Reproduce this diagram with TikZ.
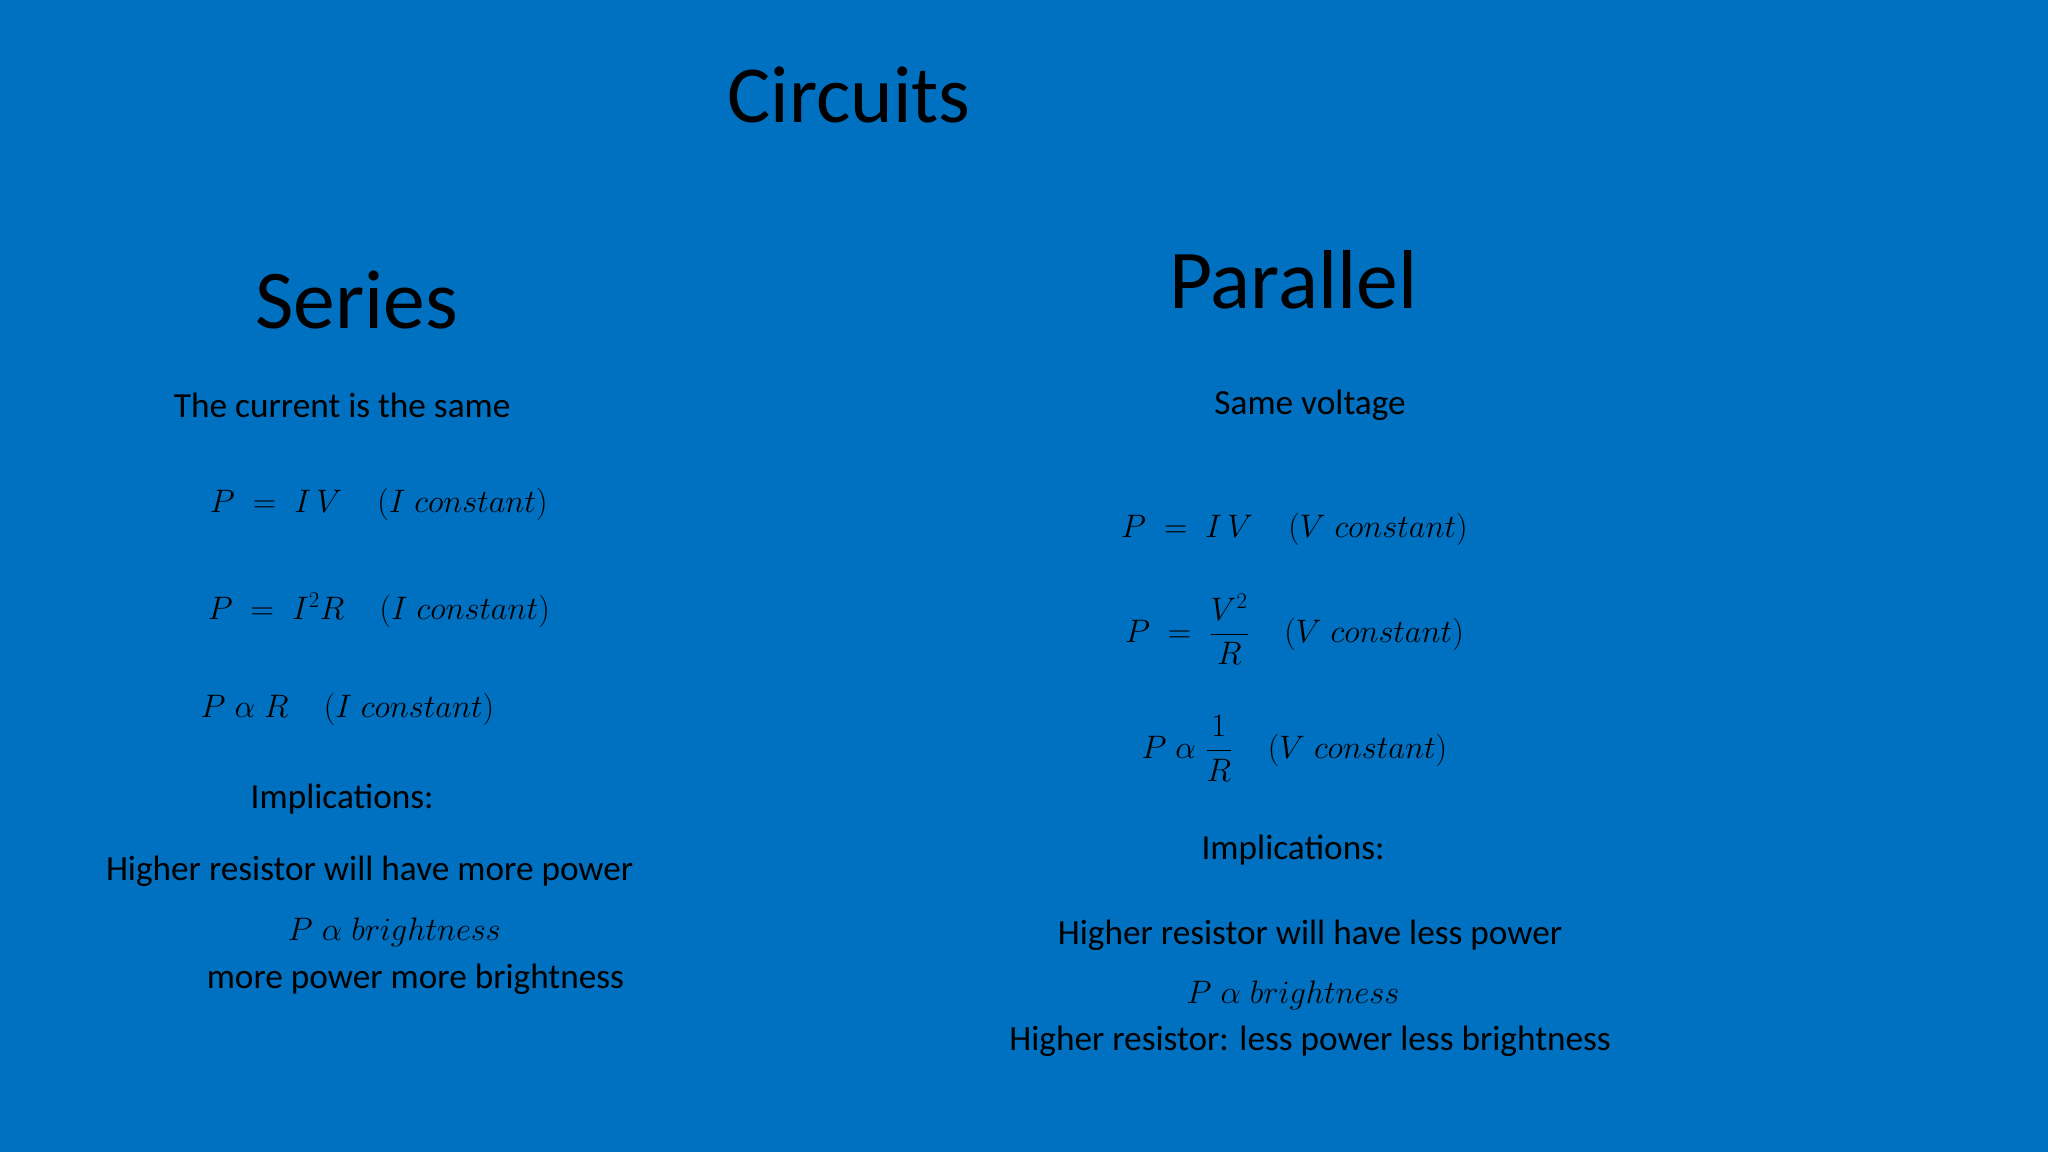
\documentclass[tikz,border=0pt]{standalone}
\usepackage{fontspec}
\setmainfont{Carlito}
\usepackage{amsmath}
\begin{document}
\begin{tikzpicture}[x=1pt,y=-1pt,
  title/.style={font=\fontsize{62}{70}\selectfont},
  head/.style={font=\fontsize{64}{72}\selectfont},
  body/.style={font=\fontsize{27}{32}\selectfont},
  eq/.style={font=\fontsize{27}{32}\selectfont}]
\fill[fill={rgb,255:red,0;green,112;blue,192}] (0,0) rectangle (1568,882);
\useasboundingbox (0,0) rectangle (1568,882);
\node[title] (t) at (650,73) {Circuits};
\node[head] (s) at (273,230) {Series};
\node[head] (p) at (990,214) {Parallel};
\node[body] (s1) at (262,310) {The current is the same};
\node[eq] (s2) at (290,386) {$P\;=\;I\,V\quad(I\;constant)$};
\node[eq] (s3) at (290,467) {$P\;=\;I^2R\quad(I\;constant)$};
\node[eq] (s4) at (266,543) {$P\;\alpha\;R\quad(I\;constant)$};
\node[body] (s5) at (262,612) {Implications:};
\node[body] (s6) at (283,667) {Higher resistor will have more power};
\node[eq] (s7) at (302,714) {$P\;\alpha\;brightness$};
\node[body] (s8) at (318,750) {more power more brightness};
\node[body] (p1) at (1003,310) {Same voltage};
\node[eq] (p2) at (991,405) {$P\;=\;I\,V\quad(V\;constant)$};
\node[eq] (p3) at (991,482) {$P\;=\;\dfrac{V^2}{R}\quad(V\;constant)$};
\node[eq] (p4) at (991,573) {$P\;\alpha\;\dfrac{1}{R}\quad(V\;constant)$};
\node[body] (p5) at (990,651) {Implications:};
\node[body] (p6) at (1003,716) {Higher resistor will have less power};
\node[eq] (p7) at (990,762) {$P\;\alpha\;brightness$};
\node[body] (p8) at (1003,797) {Higher resistor: less power less brightness};
\end{tikzpicture}
\end{document}
